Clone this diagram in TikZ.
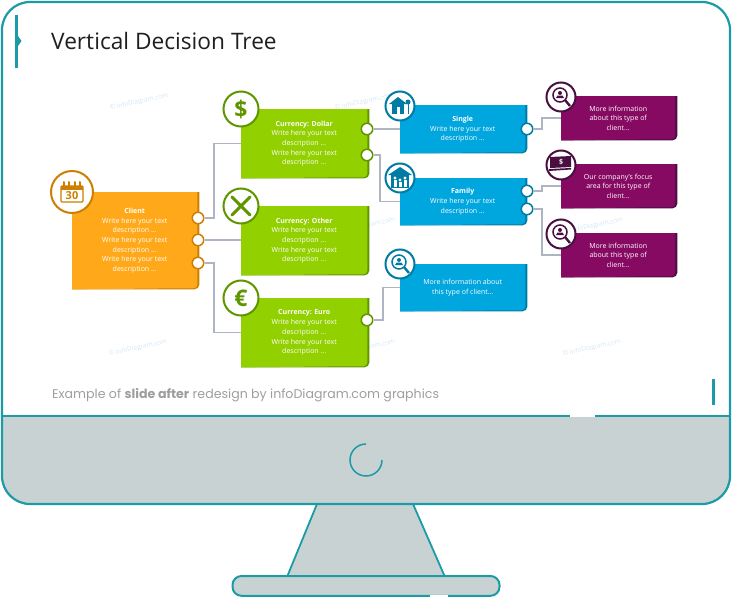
\documentclass[tikz,border=0pt]{standalone}
\usepackage{fontspec}
\setmainfont{Open Sans}
\newfontfamily\footerfont{Poppins}
\usetikzlibrary{backgrounds}
\definecolor{screenteal}{HTML}{1A9BA6}
\definecolor{bezelgrey}{HTML}{C9D2D3}
\definecolor{linkgrey}{HTML}{AEB4C2}
\definecolor{markblue}{HTML}{D3E6F5}
\definecolor{clientfill}{HTML}{FFA91A}
\definecolor{clientdark}{HTML}{CC7F00}
\definecolor{currencyfill}{HTML}{92D000}
\definecolor{currencydark}{HTML}{5F9600}
\definecolor{typefill}{HTML}{00A6DE}
\definecolor{typedark}{HTML}{007BA3}
\definecolor{infofill}{HTML}{860A62}
\definecolor{infodark}{HTML}{480F40}
\tikzset{
	card/.style={anchor=north west,inner sep=0pt,align=center,text=white,
		font=\fontsize{7}{9.7}\selectfont},
	lowcard/.style={card,execute at begin node={\rule{0pt}{7.6pt}}},
	link/.style={draw=linkgrey,line width=1.5pt},
	port/.style={circle,draw=#1,fill=white,line width=1.5pt,inner sep=0pt,minimum size=11.5pt},
	badge/.style={circle,draw=#1,fill=white,line width=2pt,inner sep=0pt},
	stamp/.style={text=markblue,rotate=12,font=\fontsize{6.5}{8}\selectfont}
}
\begin{document}
\begin{tikzpicture}[x=1pt,y=-1pt]
	\useasboundingbox (0,0) rectangle (732,597);

	% monitor
	\draw [screenteal,fill=bezelgrey,line width=1.8pt] (317,504) -- (413,504) -- (445,577) -- (287,577) -- cycle;
	\draw [screenteal,fill=bezelgrey,line width=2pt,rounded corners=9pt] (232.5,576) rectangle (499.5,595.8);
	\fill [bezelgrey] (2,416) -- (730,416) {[rounded corners=28pt] -- (730,504) -- (2,504) -- (2,416)} -- cycle;
	\draw [screenteal,line width=2.2pt,rounded corners=28pt] (2,2) rectangle (730,504);
	\draw [screenteal,line width=2pt] (2,416) -- (730,416);
	\draw [white,line width=2.6pt] (570,416) -- (595,416);
	\draw [white,line width=2.6pt] (430,596) -- (448,596);
	\draw [screenteal,line width=1.5pt] (366,444) arc (-90:-360:16);

	% title and footer
	\fill [screenteal] (15,15) rectangle (18,68);
	\fill [screenteal] (18,36) -- (21.5,41) -- (18,46) -- cycle;
	\fill [screenteal] (712,379) rectangle (715,405);
	\node (title) [anchor=west,inner sep=0pt,text=black!88,font=\fontsize{22.7}{26}\selectfont] at (51,41) {Vertical Decision Tree};
	\node (footer) [anchor=west,inner sep=0pt,text=black!38,font=\footerfont\fontsize{12.6}{16}\selectfont] at (52,395.5) {Example of \textbf{slide after} redesign by infoDiagram.com graphics};

	% cards
	\node (client) [card,minimum width=125pt,minimum height=97pt] at (72,192) {\textbf{Client}\\Write here your text\\description ...\\Write here your text\\description ...\\Write here your text\\description ...};
	\node (dollar) [lowcard,minimum width=126pt,minimum height=69pt] at (241,109) {\textbf{Currency: Dollar}\\Write here your text\\description ...\\Write here your text\\description ...};
	\node (other) [lowcard,minimum width=126pt,minimum height=69pt] at (241,206) {\textbf{Currency: Other}\\Write here your text\\description ...\\Write here your text\\description ...};
	\node (euro) [lowcard,minimum width=126pt,minimum height=69pt] at (241,298) {\textbf{Currency: Euro}\\Write here your text\\description ...\\Write here your text\\description ...};
	\node (single) [lowcard,minimum width=125pt,minimum height=48pt] at (400,105) {\textbf{Single}\\Write here your text\\description ...};
	\node (family) [lowcard,minimum width=125pt,minimum height=47pt] at (400,178) {\textbf{Family}\\Write here your text\\description ...};
	\node (more) [card,minimum width=125pt,minimum height=47pt] at (400,264) {More information about\\this type of client...};
	\node (infoa) [card,minimum width=114pt,minimum height=44pt] at (561,96) {More information\\about this type of\\client...};
	\node (infob) [card,minimum width=114pt,minimum height=44pt] at (561,164) {Our company's focus\\area for this type of\\client...};
	\node (infoc) [card,minimum width=114pt,minimum height=44pt] at (561,233) {More information\\about this type of\\client...};

	\begin{scope}[on background layer]
		\foreach \stampx/\stampy in {139/102,364/102,366/226,594/226,138/348,366/348,592/348}
			\node [stamp] at (\stampx,\stampy) {© infoDiagram.com};
		\foreach \cardname/\cardfill/\carddark in {client/clientfill/clientdark,dollar/currencyfill/currencydark,other/currencyfill/currencydark,euro/currencyfill/currencydark,single/typefill/typedark,family/typefill/typedark,more/typefill/typedark,infoa/infofill/infodark,infob/infofill/infodark,infoc/infofill/infodark} {
			\fill [\carddark] (\cardname.north west) -- ([xshift=2pt]\cardname.north east) {[rounded corners=5pt] -- ([xshift=2pt]\cardname.south east) -- ([xshift=-30pt]\cardname.south east)} -- (\cardname.south west) -- cycle;
			\fill [\cardfill] (\cardname.north west) -- (\cardname.north east) {[rounded corners=4pt] -- ([yshift=1pt]\cardname.south east) -- ([xshift=-30pt,yshift=1pt]\cardname.south east)} -- (\cardname.south west) -- cycle;
		}
	\end{scope}

	% ports
	\node (clienta) [port=clientdark] at (198,218) {};
	\node (clientb) [port=clientdark] at (198,240) {};
	\node (clientc) [port=clientdark] at (198,263) {};
	\node (dollara) [port=currencydark] at (367,129) {};
	\node (dollarb) [port=currencydark] at (367,155) {};
	\node (euroa) [port=currencydark] at (367,320) {};
	\node (singlea) [port=typedark] at (527,129) {};
	\node (familya) [port=typedark] at (527,191) {};
	\node (familyb) [port=typedark] at (527,209) {};

	% connectors
	\coordinate (trunka) at (214,0);
	\coordinate (trunkb) at (380,0);
	\coordinate (trunkc) at (383,0);
	\coordinate (trunkd) at (542,0);
	\begin{scope}[on background layer]
		\draw [link] (clienta) -- (clienta -| trunka) |- (dollar.west);
		\draw [link] (clientb) -- (clientb -| other.west);
		\draw [link] (clientc) -- (clientc -| trunka) |- (euro.west);
		\draw [link] (dollara) -- (dollara -| single.west);
		\draw [link] (dollarb) -- (dollarb -| trunkb) |- (family.west);
		\draw [link] (euroa) -- (euroa -| trunkc) |- (more.west);
		\draw [link] (singlea) -- (singlea -| trunkd) |- (infoa.west);
		\draw [link] (familya) -- (familya -| trunkd) |- (infob.west);
		\draw [link] (familyb) -- (familyb -| trunkd) |- (infoc.west);
	\end{scope}

	% badges
	\node (clientbadge) [badge=clientdark,minimum size=42pt] at (72,192) {};
	\node (dollarbadge) [badge=currencydark,minimum size=35pt,text=currencydark,font=\bfseries\fontsize{23}{23}\selectfont] at (241,109) {\$};
	\node (otherbadge) [badge=currencydark,minimum size=35pt] at (241,206) {};
	\node (eurobadge) [badge=currencydark,minimum size=35pt,text=currencydark,font=\bfseries\fontsize{23}{23}\selectfont] at (241,298) {€};
	\node (singlebadge) [badge=typedark,minimum size=29pt] at (400,106) {};
	\node (familybadge) [badge=typedark,minimum size=29pt] at (400,178) {};
	\node (morebadge) [badge=typedark,minimum size=29pt] at (400,264) {};
	\node (infoabadge) [badge=infodark,minimum size=29pt] at (561,97) {};
	\node (infobbadge) [badge=infodark,minimum size=29pt] at (561,165) {};
	\node (infocbadge) [badge=infodark,minimum size=29pt] at (561,234) {};

	% icons
	\begin{scope}[shift={(clientbadge)},clientdark]
		\draw [line width=1.4pt,rounded corners=1pt] (-11,-6) rectangle (11,10);
		\fill (-11,-6) rectangle (11,-2);
		\foreach \tickx in {-8,-3,3,8}
			\draw [line width=2pt,line cap=round] (\tickx,-10) -- (\tickx,-5);
		\node (caldate) [inner sep=0pt,font=\bfseries\fontsize{11}{11}\selectfont] at (0,4) {30};
	\end{scope}
	\draw [currencydark,line width=3pt,line cap=round] ([shift={(-9,-9)}]otherbadge.center) -- ([shift={(9,9)}]otherbadge.center);
	\draw [currencydark,line width=3pt,line cap=round] ([shift={(-9,9)}]otherbadge.center) -- ([shift={(9,-9)}]otherbadge.center);
	\begin{scope}[shift={(singlebadge)},typedark]
		\fill (-11,-2) -- (-2,-9) -- (7,-2) -- cycle;
		\fill (-8,-2) rectangle (4,8);
		\fill [white] (-3.5,1) rectangle (0,8);
		\fill (8,-4) circle (2.5);
		\draw [line width=1pt] (8,-4) -- (8,8);
	\end{scope}
	\begin{scope}[shift={(familybadge)},typedark]
		\fill (-12,-3) -- (0,-11) -- (12,-3) -- cycle;
		\fill (-9,-3) rectangle (9,10);
		\foreach \kidx/\kidh in {-5/2,0/4,5/2} {
			\fill [white] (\kidx,\kidh-2) circle (1.6);
			\fill [white] (\kidx-1.5,\kidh) rectangle (\kidx+1.5,9);
		}
	\end{scope}
	\foreach \glassname/\glasscolor in {morebadge/typedark,infoabadge/infodark,infocbadge/infodark} {
		\begin{scope}[shift={(\glassname)},\glasscolor]
			\draw [line width=1.5pt] (-1,-2) circle (7);
			\draw [line width=2.4pt] (4,3) -- (9,9);
			\fill (-1,-4) circle (2);
			\fill (-5,1) -- (-3.5,-1.5) -- (1.5,-1.5) -- (3,1) -- cycle;
		\end{scope}
	}
	\begin{scope}[shift={(infobbadge)},infodark]
		\fill (-11,-8) -- (10,-9) -- (10,2) -- (-11,3) -- cycle;
		\fill (-12,4) -- (10,3) -- (10,4.5) -- (-12,6) -- cycle;
		\node (cashsign) [inner sep=0pt,text=white,font=\bfseries\fontsize{7}{7}\selectfont] at (0,-3) {\$};
	\end{scope}
\end{tikzpicture}
\end{document}
